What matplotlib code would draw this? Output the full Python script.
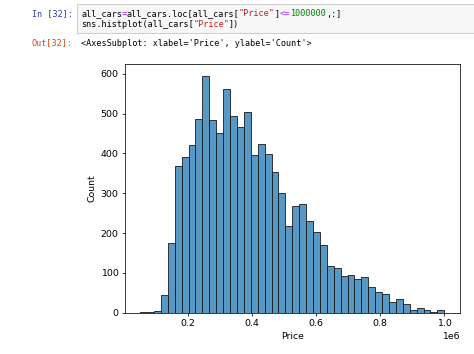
import numpy as np
import matplotlib
matplotlib.use("Agg")
import matplotlib.pyplot as plt
from matplotlib.patches import Rectangle

# histogram of car prices (counts)
price_min = 51000
price_max = 1000000
counts = [1, 2, 5, 44, 175, 369, 391, 421, 486, 594, 484, 450, 562, 493, 467,
          503, 396, 423, 398, 353, 300, 217, 269, 274, 230, 203, 170, 117, 112,
          92, 95, 85, 89, 65, 51, 46, 26, 34, 21, 8, 11, 7, 3, 6]
xticks = [0.2e6, 0.4e6, 0.6e6, 0.8e6, 1.0e6]
yticks = [0, 100, 200, 300, 400, 500, 600]

# notebook cell text
in_prompt = "In [32]:"
out_prompt = "Out[32]:"
code_line1 = [("all_cars", "#000000"), ("=", "#AA22FF"), ("all_cars.loc[all_cars[", "#000000"),
              ('"Price"', "#BA2121"), ("]", "#000000"), ("<=", "#AA22FF"),
              ("1000000", "#008000"), (",:]", "#000000")]
code_line2 = [("sns.histplot(all_cars[", "#000000"), ('"Price"', "#BA2121"), ("])", "#000000")]
out_text = "<AxesSubplot: xlabel='Price', ylabel='Count'>"

W, H = 474, 354
s = 0.673  # the screenshot is a shrunk notebook figure
plt.rcParams.update({
    "font.size": 10 * s,
    "axes.linewidth": 0.8 * s,
    "xtick.major.size": 3.5 * s, "ytick.major.size": 3.5 * s,
    "xtick.major.width": 0.8 * s, "ytick.major.width": 0.8 * s,
    "xtick.major.pad": 3.5 * s, "ytick.major.pad": 3.5 * s,
    "axes.labelpad": 4 * s,
})

fig = plt.figure(figsize=(W / 100, H / 100), dpi=100)
ax = fig.add_axes([125 / W, 41.3 / H, 334.5 / W, 248.4 / H])

edges = np.linspace(price_min, price_max, len(counts) + 1)
ax.bar(edges[:-1], counts, width=np.diff(edges), align="edge",
       facecolor=(0.122, 0.467, 0.706, 0.75), edgecolor="#1a1a1a", linewidth=0.6)
ax.set_xticks(xticks)
ax.set_yticks(yticks)
ax.ticklabel_format(axis="x", style="sci", scilimits=(0, 0))
ax.set_ylim(0, max(counts) * 1.05)
ax.set_xlabel("Price")
ax.set_ylabel("Count")

# notebook cell chrome
mono = "DejaVu Sans Mono"
fs = 6.1
char_w = 0.602 * fs * 100 / 72


def put(x, y, txt, color):
    fig.text(x / W, 1 - y / H, txt, color=color, family=mono, fontsize=fs, va="baseline")


def put_tokens(x, y, tokens):
    for tok, color in tokens:
        put(x, y, tok, color)
        x += len(tok) * char_w


fig.add_artist(Rectangle((77 / W, 1 - 33 / H), 420 / W, 29 / H, transform=fig.transFigure,
                         facecolor="#f7f7f7", edgecolor="#cfcfcf", linewidth=0.8))
put(32, 16.5, in_prompt, "#303F9F")
put_tokens(81, 16.5, code_line1)
put_tokens(81, 26.8, code_line2)
put(32, 45.5, out_prompt, "#D84315")
put(81, 45.5, out_text, "#000000")

fig.savefig("out.png", dpi=100)
